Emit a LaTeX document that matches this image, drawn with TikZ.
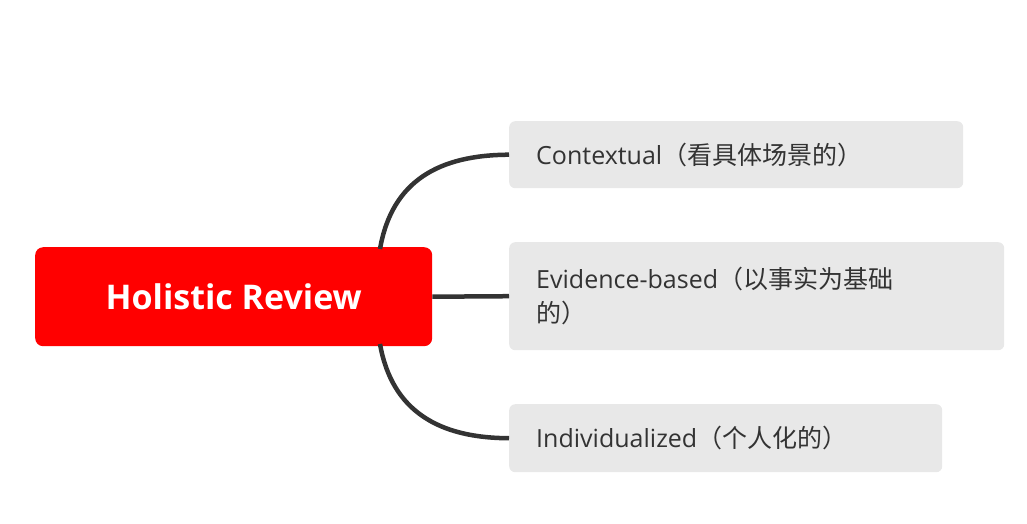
\documentclass[tikz,border=0pt]{standalone}
\usepackage{fontspec}
\setmainfont{Open Sans}
\newfontfamily\cjk{Noto Sans CJK SC}
\begin{document}
\begin{tikzpicture}[x=1pt,y=-1pt,
  child/.style={fill=gray!18,rounded corners=6pt,anchor=north west,inner xsep=27pt,inner ysep=0pt,align=left,font=\fontsize{25}{34}\selectfont,text=black!80},
  conn/.style={draw=black!80,line width=4.5pt}]
\useasboundingbox (0,0) rectangle (1027,523);
\node[fill=red,rounded corners=8pt,minimum width=397pt,minimum height=99pt,anchor=north west,text=white,font=\fontsize{34}{40}\selectfont\bfseries] (root) at (35,247) {Holistic Review};
\node[child,minimum height=67pt,text width=400pt] (c1) at (509,121) {Contextual{\cjk（看具体场景的）}};
\node[child,minimum height=108pt,text width=441pt] (c2) at (509,242) {Evidence-based{\cjk（以事实为基础}\\{\cjk 的）}};
\node[child,minimum height=68pt,text width=379pt] (c3) at (509,404) {Individualized{\cjk（个人化的）}};
\coordinate (t) at (380,249);
\coordinate (b) at (380,344);
\draw[conn] (t) .. controls (392,180) and (440,155) .. (c1.west);
\draw[conn] (root.east) -- (c2.west);
\draw[conn] (b) .. controls (392,412) and (440,438) .. (c3.west);
\end{tikzpicture}
\end{document}
